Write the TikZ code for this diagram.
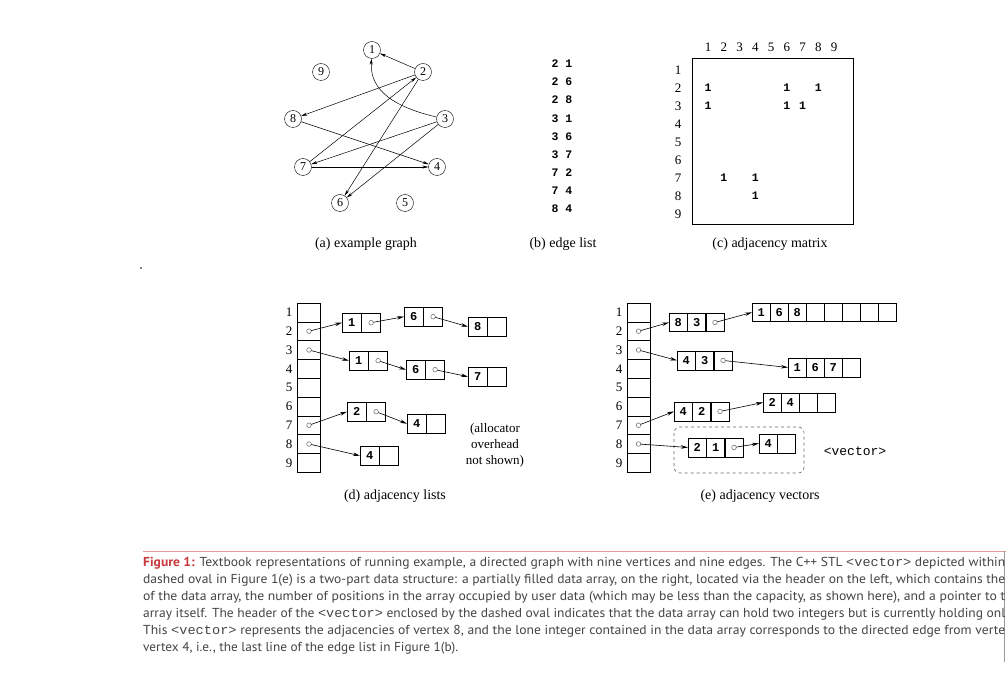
\documentclass[tikz,border=0pt]{standalone}
\usepackage{fontspec}
\usepackage{graphicx}
\setmainfont{Liberation Serif}
\setmonofont{Liberation Mono}
\newfontfamily\capfont{PT Sans}
\usetikzlibrary{arrows.meta}
\definecolor{capred}{HTML}{C8383C}
\definecolor{capgray}{HTML}{444444}
\newcommand\lnode[4]{\node[cell,anchor=north west] (#1a) at (#2,#3) {#4};\node[cell,anchor=west] (#1b) at (#1a.east) {};\coordinate (#1p) at (#1b.center);\draw[ptr] (#1p) circle (2.3pt);}
\newcommand\lend[4]{\node[cell,anchor=north west] (#1a) at (#2,#3) {#4};\node[cell,anchor=west] (#1b) at (#1a.east) {};}
\newcommand\hnode[5]{\node[vcell,anchor=north west] (#1a) at (#2,#3) {#4};\node[vcell,anchor=west] (#1b) at (#1a.east) {#5};\node[vcell,anchor=west] (#1c) at (#1b.east) {};\coordinate (#1p) at (#1c.center);\draw[ptr] (#1p) circle (2.3pt);}
\newcommand\capline[2]{\node[anchor=west,inner sep=0,font=\capfont\fontsize{13}{15}\selectfont,text=capgray] at (143,#1) {\resizebox{862pt}{\height}{\strut #2}};}
\begin{document}
\begin{tikzpicture}[x=1pt,y=-1pt,
  gn/.style={draw,circle,minimum size=17pt,inner sep=0,font=\fontsize{12}{12}\selectfont},
  garr/.style={-{Stealth[length=6pt,width=3pt]},line width=0.5pt},
  arr/.style={-{Stealth[length=7pt,width=3.5pt]},line width=0.6pt,shorten <=2.3pt},
  cell/.style={draw,minimum width=19pt,minimum height=19pt,inner sep=0,font=\ttfamily\bfseries\fontsize{12}{12}\selectfont},
  vcell/.style={draw,minimum width=18pt,minimum height=18.5pt,inner sep=0,font=\ttfamily\bfseries\fontsize{12}{12}\selectfont},
  acell/.style={draw,minimum width=23pt,minimum height=18.8pt,inner sep=0},
  ptr/.style={draw=black!60,line width=0.5pt},
  lab/.style={font=\fontsize{13}{13}\selectfont,inner sep=0},
  sub/.style={font=\fontsize{14}{14}\selectfont},
  mono/.style={font=\ttfamily\bfseries\fontsize{11.5}{11.5}\selectfont,inner sep=0}]
\useasboundingbox (0,0) rectangle (1006,692);
\fill[white] (0,0) rectangle (1006,692);
% (a) graph
\node[gn] (n1) at (372,50) {1};
\node[gn] (n2) at (423,72) {2};
\node[gn] (n9) at (321,72) {9};
\node[gn] (n8) at (293,119) {8};
\node[gn] (n3) at (445,119) {3};
\node[gn] (n7) at (303,167) {7};
\node[gn] (n4) at (437,167) {4};
\node[gn] (n6) at (340,203) {6};
\node[gn] (n5) at (405,203) {5};
\draw[garr] (n2) -- (n1);
\draw[garr] (n2) -- (n8);
\draw[garr] (n2) -- (n6);
\draw[garr] (n3) .. controls (385,105) and (370,85) .. (n1);
\draw[garr] (n3) -- (n6);
\draw[garr] (n3) -- (n7);
\draw[garr] (n7) -- (n2);
\draw[garr] (n7) -- (n4);
\draw[garr] (n8) -- (n4);
\node[sub] (ca) at (366,244) {(a) example graph};
% (b) edge list
\foreach \a/\b [count=\i] in {2/1,2/6,2/8,3/1,3/6,3/7,7/2,7/4,8/4}{
  \node[mono] (e\i) at (562,{64+18.1*(\i-1)}) {\a\ \b};}
\node[sub] (cb) at (563,244) {(b) edge list};
% (c) matrix
\node[draw,minimum width=161pt,minimum height=166pt,anchor=north west,line width=0.5pt] (mat) at (692,58) {};
\foreach \i in {1,...,9}{
  \node[lab] (ct\i) at ({708+15.75*(\i-1)},47) {\i};
  \node[lab] (rt\i) at (678,{70+18*(\i-1)}) {\i};}
\foreach \r/\c in {2/1,2/6,2/8,3/1,3/6,3/7,7/2,7/4,8/4}{
  \node[mono] at ({708+15.75*(\c-1)},{70+18*(\r-1)}) {1};}
\node[sub] (cc) at (770,244) {(c) adjacency matrix};
% (d) adjacency lists
\foreach \i in {1,...,9}{
  \node[acell] (L\i) at (309,{303+18.8*(\i-0.5)}) {};
  \node[lab] (Ll\i) at (289,{303+18.8*(\i-0.5)}) {\i};}
\foreach \i in {2,3,7,8}{\coordinate (Lp\i) at (309,{303+18.8*(\i-0.5)}); \draw[ptr] (Lp\i) circle (2.3pt);}
\lnode{A1}{342}{313}{1}\lnode{A2}{404}{307}{6}\lend{A3}{468}{317}{8}
\lnode{B1}{349}{351}{1}\lnode{B2}{406}{360}{6}\lend{B3}{468}{367}{7}
\lnode{C1}{347}{402}{2}\lend{C2}{407}{414}{4}
\lend{D1}{360}{446}{4}
\draw[arr] (Lp2) -- (A1a.west); \draw[arr] (A1p) -- (A2a.west); \draw[arr] (A2p) -- (A3a.west);
\draw[arr] (Lp3) -- (B1a.west); \draw[arr] (B1p) -- (B2a.west); \draw[arr] (B2p) -- (B3a.west);
\draw[arr] (Lp7) -- (C1a.west); \draw[arr] (C1p) -- (C2a.west);
\draw[arr] (Lp8) -- (D1a.west);
\node[align=center,font=\fontsize{13}{16}\selectfont,inner sep=0] (alloc) at (495,445) {(allocator\\overhead\\not shown)};
\node[sub] (cd) at (395,496) {(d) adjacency lists};
% (e) adjacency vectors
\foreach \i in {1,...,9}{
  \node[acell] (V\i) at (638.5,{303+18.8*(\i-0.5)}) {};
  \node[lab] (Vl\i) at (619,{303+18.8*(\i-0.5)}) {\i};}
\foreach \i in {2,3,7,8}{\coordinate (Vp\i) at (638.5,{303+18.8*(\i-0.5)}); \draw[ptr] (Vp\i) circle (2.3pt);}
\hnode{H2}{669}{313}{8}{3}
\hnode{H3}{677}{351}{4}{3}
\hnode{H7}{674}{402}{4}{2}
\hnode{H8}{688}{438}{2}{1}
\foreach \t [count=\i from 0] in {1,6,8,,,,,}{\node[vcell,anchor=north west] (W2\i) at ({752+18*\i},303) {\t};}
\foreach \t [count=\i from 0] in {1,6,7,}{\node[vcell,anchor=north west] (W3\i) at ({788+18*\i},358) {\t};}
\foreach \t [count=\i from 0] in {2,4,,}{\node[vcell,anchor=north west] (W7\i) at ({763+18*\i},393) {\t};}
\foreach \t [count=\i from 0] in {4,}{\node[vcell,anchor=north west] (W8\i) at ({759+18*\i},434) {\t};}
\draw[arr] (Vp2) -- (H2a.west); \draw[arr] (H2p) -- (W20.west);
\draw[arr] (Vp3) -- (H3a.west); \draw[arr] (H3p) -- (W30.west);
\draw[arr] (Vp7) -- (H7a.west); \draw[arr] (H7p) -- (W70.west);
\draw[arr] (Vp8) -- (H8a.west); \draw[arr] (H8p) -- (W80.west);
\draw[dashed,draw=black!60,rounded corners=6pt,line width=0.6pt] (674,427) rectangle (804,473);
\node[font=\ttfamily\fontsize{13}{13}\selectfont,inner sep=0] (vec) at (855,451) {<vector>};
\node[sub] (ce) at (760,496) {(e) adjacency vectors};
% misc
\fill (141,268) circle (0.8pt);
\draw[capred!50,line width=0.6pt] (143,551) -- (1006,551);
\draw[black!40,line width=0.5pt] (1004,551) -- (1004,662);
% caption
\capline{563}{\textcolor{capred}{\bfseries Figure 1:} Textbook representations of running example, a directed graph with nine vertices and nine edges. The C++ STL \texttt{<vector>} depicted within}
\capline{580}{dashed oval in Figure 1(e) is a two-part data structure: a partially filled data array, on the right, located via the header on the left, which contains the}
\capline{597}{of the data array, the number of positions in the array occupied by user data (which may be less than the capacity, as shown here), and a pointer to t}
\capline{614}{array itself. The header of the \texttt{<vector>} enclosed by the dashed oval indicates that the data array can hold two integers but is currently holding onl}
\capline{631}{This \texttt{<vector>} represents the adjacencies of vertex 8, and the lone integer contained in the data array corresponds to the directed edge from verte}
\node[anchor=west,inner sep=0,font=\capfont\fontsize{13}{15}\selectfont,text=capgray] (cap6) at (143,648) {\resizebox{315pt}{\height}{\strut vertex 4, i.e., the last line of the edge list in Figure 1(b).}};
\end{tikzpicture}
\end{document}
